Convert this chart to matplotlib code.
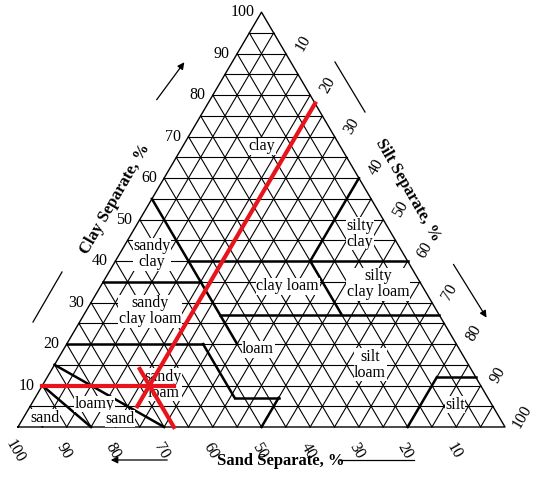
import matplotlib
matplotlib.use("Agg")
import matplotlib.pyplot as plt
import numpy as np

plt.rcParams['font.family'] = ['Liberation Serif', 'DejaVu Serif']

ticks = [10, 20, 30, 40, 50, 60, 70, 80, 90, 100]
grid_step = 5

# texture class boundary segments as (clay, silt) endpoint pairs
boundaries = [
    [(55, 0), (35, 20)],
    [(35, 0), (35, 20)],
    [(40, 15), (40, 60)],
    [(60, 40), (40, 40)],
    [(40, 40), (27, 53)],
    [(27, 28), (27, 73)],
    [(35, 20), (20, 35)],
    [(20, 0), (20, 28)],
    [(20, 28), (7, 41)],
    [(7, 41), (7, 50)],
    [(7, 50), (0, 50)],
    [(12, 80), (12, 88)],
    [(12, 80), (0, 80)],
    [(15, 0), (0, 30)],
    [(10, 0), (0, 15)],
]

classes = ["clay", "sandy\nclay", "silty\nclay", "clay loam", "silty\nclay loam",
           "sandy\nclay loam", "loam", "silt\nloam", "sandy\nloam", "loamy", "sand", "sand", "silt"]
class_pos = [(50.1, 58.6), (27.5, 36.1), (70.2, 40.3), (55.4, 29.4), (73.9, 29.8),
             (27.1, 24.2), (49.3, 16.2), (72.3, 13.0), (29.8, 8.8), (15.8, 4.8),
             (5.5, 1.9), (20.9, 1.7), (89.7, 4.6)]

# red marker lines (clay, silt)
red_lines = [
    [(5, 22), (78, 22)],
    [(10, 0), (10, 27)],
    [(14, 18), (0, 32)],
]

H = np.sqrt(3) / 2
def xy(clay, silt):
    return silt + clay / 2, clay * H

fig = plt.figure(figsize=(5.39, 4.80), dpi=100)
ax = fig.add_axes([0, 0, 1, 1])
ax.set_xlim(-18 / 4.87, (539 - 18) / 4.87)
ax.set_ylim(-(480 - 427) / 4.79, 427 / 4.79)
ax.axis('off')

for v in range(grid_step, 100, grid_step):
    a = xy(v, 0); b = xy(v, 100 - v)
    ax.plot([a[0], b[0]], [a[1], b[1]], color='black', lw=0.8, zorder=1)
    a = xy(0, v); b = xy(100 - v, v)
    ax.plot([a[0], b[0]], [a[1], b[1]], color='black', lw=0.8, zorder=1)
    a = xy(0, 100 - v); b = xy(100 - v, 0)
    ax.plot([a[0], b[0]], [a[1], b[1]], color='black', lw=0.8, zorder=1)
tri = [xy(0, 0), xy(0, 100), xy(100, 0), xy(0, 0)]
ax.plot([p[0] for p in tri], [p[1] for p in tri], color='black', lw=1.0, zorder=1)

for seg in boundaries:
    a = xy(*seg[0]); b = xy(*seg[1])
    ax.plot([a[0], b[0]], [a[1], b[1]], color='black', lw=1.8, zorder=2)

for name, (x, y) in zip(classes, class_pos):
    ax.text(x, y, name, ha='center', va='center', fontsize=11.5, linespacing=1.0,
            bbox=dict(facecolor='white', edgecolor='none', pad=0.3), zorder=3)

for seg in red_lines:
    a = xy(*seg[0]); b = xy(*seg[1])
    ax.plot([a[0], b[0]], [a[1], b[1]], color='#e8141c', lw=3, zorder=4)

for t in ticks:
    x, y = xy(t, 0)
    ax.text(x - 1.5, y, str(t), ha='right', va='center', fontsize=11.5)
    x, y = xy(0, 100 - t)
    ax.text(x - 0.5, y - 5.0, str(t), ha='center', va='center', fontsize=11.5, rotation=-60)
    x, y = xy(100 - t, t)
    ax.text(x + 3.6, y + 2.2, str(t), ha='center', va='center', fontsize=11.5, rotation=60)

ax.text(20.0, 47.5, "Clay Separate, %", rotation=60, ha='center', va='center',
        fontsize=12, fontweight='bold')
ax.text(80.0, 49.5, "Silt Separate, %", rotation=-60, ha='center', va='center',
        fontsize=12, fontweight='bold')
ax.text(54, -7, "Sand Separate, %", ha='center', va='center', fontsize=12, fontweight='bold')

def px(xp, yp):
    return (xp - 18) / 4.87, (427 - yp) / 4.79

ax.annotate("", xy=px(186, 60), xytext=px(155, 102),
            arrowprops=dict(arrowstyle='-|>', color='black', lw=0.9))
ax.plot(*zip(px(33, 322), px(62, 272)), color='black', lw=0.9)
ax.plot(*zip(px(335, 62), px(365, 112)), color='black', lw=0.9)
ax.annotate("", xy=px(488, 320), xytext=px(452, 262),
            arrowprops=dict(arrowstyle='-|>', color='black', lw=0.9))
ax.annotate("", xy=px(108, 460), xytext=px(170, 460),
            arrowprops=dict(arrowstyle='-|>', color='black', lw=0.9))
ax.plot(*zip(px(340, 460), px(414, 460)), color='black', lw=0.9)

fig.savefig("out.png", dpi=100, facecolor='white')
